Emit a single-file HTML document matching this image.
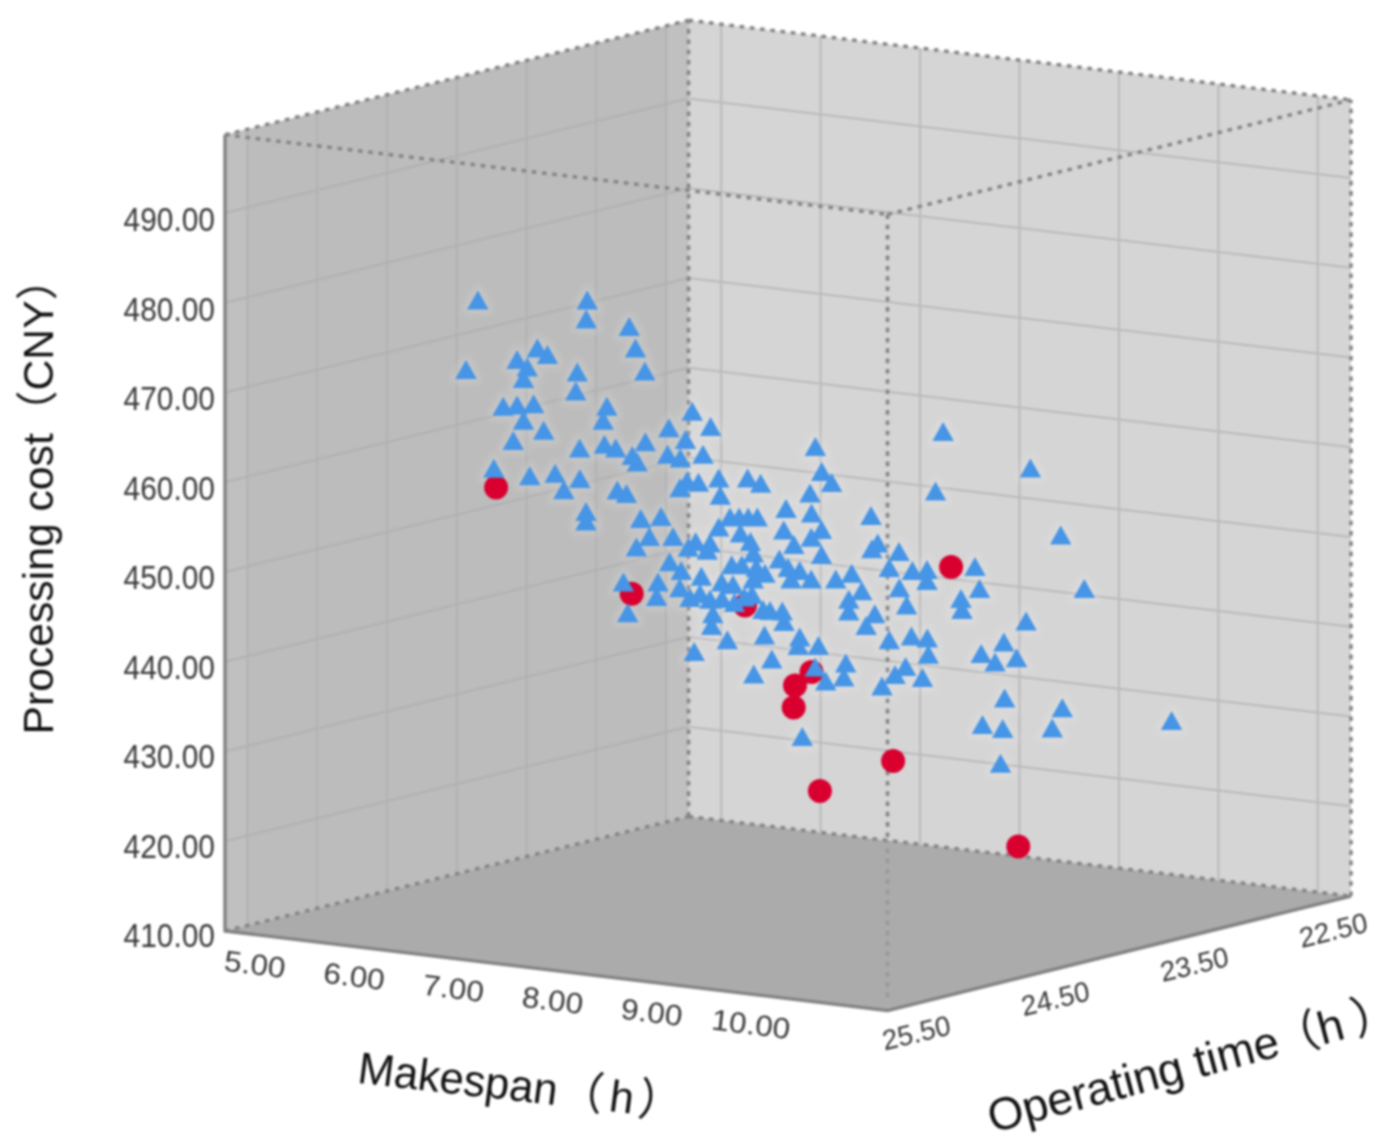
<!DOCTYPE html><html><head><meta charset="utf-8"><title>3D scatter</title><style>html,body{margin:0;padding:0;background:#fff;}svg{display:block;filter:blur(0.85px);}.tk{font-family:"Liberation Sans",sans-serif;fill:#383838;}.tt{font-family:"Liberation Sans","Noto Sans CJK SC",sans-serif;fill:#111;}</style></head><body>
<svg width="1384" height="1148" viewBox="0 0 1384 1148">
<rect width="1384" height="1148" fill="#fff"/>
<polygon points="225.0,931.0 688.5,816.5 688.5,20.3 225.0,134.8" fill="#bcbcbc"/>
<polygon points="688.5,816.5 1351.0,896.1 1351.0,99.9 688.5,20.3" fill="#d5d5d5"/>
<polygon points="225.0,931.0 688.5,816.5 1351.0,896.1 887.5,1010.6" fill="#ababab"/>
<polygon points="225.0,931.0 247.5,925.4 247.5,129.2 225.0,134.8" fill="#c0c0c0"/>
<polygon points="666.0,822.1 688.5,816.5 688.5,20.3 666.0,25.9" fill="#c0c0c0"/>
<line x1="247.5" y1="925.4" x2="247.5" y2="129.2" stroke="#b2b2b2" stroke-width="2"/>
<line x1="317.2" y1="908.2" x2="317.2" y2="112.0" stroke="#b2b2b2" stroke-width="2"/>
<line x1="387.0" y1="891.0" x2="387.0" y2="94.8" stroke="#b2b2b2" stroke-width="2"/>
<line x1="456.8" y1="873.8" x2="456.8" y2="77.5" stroke="#b2b2b2" stroke-width="2"/>
<line x1="526.5" y1="856.5" x2="526.5" y2="60.3" stroke="#b2b2b2" stroke-width="2"/>
<line x1="596.2" y1="839.3" x2="596.2" y2="43.1" stroke="#b2b2b2" stroke-width="2"/>
<line x1="666.0" y1="822.1" x2="666.0" y2="25.9" stroke="#b2b2b2" stroke-width="2"/>
<line x1="721.2" y1="820.4" x2="721.2" y2="24.2" stroke="#bababa" stroke-width="2"/>
<line x1="820.6" y1="832.4" x2="820.6" y2="36.2" stroke="#bababa" stroke-width="2"/>
<line x1="920.1" y1="844.3" x2="920.1" y2="48.1" stroke="#bababa" stroke-width="2"/>
<line x1="1019.5" y1="856.3" x2="1019.5" y2="60.1" stroke="#bababa" stroke-width="2"/>
<line x1="1118.9" y1="868.2" x2="1118.9" y2="72.0" stroke="#bababa" stroke-width="2"/>
<line x1="1218.4" y1="880.2" x2="1218.4" y2="84.0" stroke="#bababa" stroke-width="2"/>
<line x1="1317.8" y1="892.1" x2="1317.8" y2="95.9" stroke="#bababa" stroke-width="2"/>
<line x1="225.0" y1="841.2" x2="688.5" y2="726.8" stroke="#b1b1b1" stroke-width="2"/>
<line x1="688.5" y1="726.8" x2="1351.0" y2="806.3" stroke="#bababa" stroke-width="2"/>
<line x1="225.0" y1="751.5" x2="688.5" y2="637.0" stroke="#b1b1b1" stroke-width="2"/>
<line x1="688.5" y1="637.0" x2="1351.0" y2="716.6" stroke="#bababa" stroke-width="2"/>
<line x1="225.0" y1="661.8" x2="688.5" y2="547.2" stroke="#b1b1b1" stroke-width="2"/>
<line x1="688.5" y1="547.2" x2="1351.0" y2="626.8" stroke="#bababa" stroke-width="2"/>
<line x1="225.0" y1="572.0" x2="688.5" y2="457.5" stroke="#b1b1b1" stroke-width="2"/>
<line x1="688.5" y1="457.5" x2="1351.0" y2="537.1" stroke="#bababa" stroke-width="2"/>
<line x1="225.0" y1="482.2" x2="688.5" y2="367.8" stroke="#b1b1b1" stroke-width="2"/>
<line x1="688.5" y1="367.8" x2="1351.0" y2="447.3" stroke="#bababa" stroke-width="2"/>
<line x1="225.0" y1="392.5" x2="688.5" y2="278.0" stroke="#b1b1b1" stroke-width="2"/>
<line x1="688.5" y1="278.0" x2="1351.0" y2="357.6" stroke="#bababa" stroke-width="2"/>
<line x1="225.0" y1="302.8" x2="688.5" y2="188.2" stroke="#b1b1b1" stroke-width="2"/>
<line x1="688.5" y1="188.2" x2="1351.0" y2="267.8" stroke="#bababa" stroke-width="2"/>
<line x1="225.0" y1="213.0" x2="688.5" y2="98.5" stroke="#b1b1b1" stroke-width="2"/>
<line x1="688.5" y1="98.5" x2="1351.0" y2="178.1" stroke="#bababa" stroke-width="2"/>
<line x1="225.0" y1="931.0" x2="688.5" y2="816.5" stroke="#858585" stroke-width="3.5" stroke-dasharray="4.6 5.7" fill="none"/>
<line x1="688.5" y1="816.5" x2="1351.0" y2="896.1" stroke="#858585" stroke-width="3.5" stroke-dasharray="4.6 5.7" fill="none"/>
<line x1="688.5" y1="816.5" x2="688.5" y2="20.3" stroke="#858585" stroke-width="3.5" stroke-dasharray="4.6 5.7" fill="none"/>
<line x1="1351.0" y1="896.1" x2="1351.0" y2="99.9" stroke="#858585" stroke-width="3.5" stroke-dasharray="4.6 5.7" fill="none"/>
<line x1="225.0" y1="134.8" x2="688.5" y2="20.3" stroke="#858585" stroke-width="3.5" stroke-dasharray="4.6 5.7" fill="none"/>
<line x1="688.5" y1="20.3" x2="1351.0" y2="99.9" stroke="#858585" stroke-width="3.5" stroke-dasharray="4.6 5.7" fill="none"/>
<line x1="887.5" y1="214.4" x2="887.5" y2="840.4" stroke="#858585" stroke-width="3.5" stroke-dasharray="4.6 5.7" fill="none"/>
<line x1="887.5" y1="840.4" x2="887.5" y2="1000.6" stroke="#999999" stroke-width="3.5" stroke-dasharray="4.6 5.7" fill="none" stroke-dashoffset="-626.0"/>
<defs><filter id="hb" x="-5%" y="-5%" width="110%" height="110%"><feGaussianBlur stdDeviation="3"/></filter></defs>
<path d="M477.9 290.6L488.6 309.6L467.1 309.6ZM587.2 290.6L598.0 309.6L576.5 309.6ZM586.2 309.5L597.0 328.5L575.5 328.5ZM629.2 317.1L640.0 336.1L618.5 336.1ZM635.5 338.6L646.2 357.6L624.8 357.6ZM644.9 361.4L655.6 380.4L634.1 380.4ZM466.0 360.1L476.8 379.1L455.2 379.1ZM537.4 338.6L548.1 357.6L526.6 357.6ZM547.5 344.9L558.2 363.9L536.8 363.9ZM517.1 350.0L527.9 369.0L506.4 369.0ZM527.3 357.6L538.0 376.6L516.5 376.6ZM523.5 369.0L534.2 388.0L512.8 388.0ZM577.3 362.6L588.0 381.6L566.5 381.6ZM575.8 381.6L586.5 400.6L565.0 400.6ZM503.2 396.8L514.0 415.8L492.4 415.8ZM517.1 395.5L527.9 414.5L506.4 414.5ZM533.6 394.2L544.4 413.2L522.9 413.2ZM523.5 410.7L534.2 429.7L512.8 429.7ZM543.7 420.8L554.5 439.8L533.0 439.8ZM513.3 430.9L524.0 449.9L502.5 449.9ZM606.9 396.8L617.6 415.8L596.1 415.8ZM603.1 410.7L613.9 429.7L592.4 429.7ZM579.6 438.5L590.4 457.5L568.9 457.5ZM604.4 434.7L615.1 453.7L593.6 453.7ZM615.8 438.5L626.5 457.5L605.0 457.5ZM632.2 446.1L643.0 465.1L621.5 465.1ZM637.3 452.4L648.0 471.4L626.5 471.4ZM645.4 432.2L656.1 451.2L634.6 451.2ZM668.9 418.3L679.6 437.3L658.1 437.3ZM692.2 401.8L703.0 420.8L681.5 420.8ZM710.6 417.0L721.4 436.0L699.9 436.0ZM667.6 444.8L678.4 463.8L656.9 463.8ZM680.3 448.6L691.0 467.6L669.5 467.6ZM703.0 444.8L713.8 463.8L692.2 463.8ZM493.9 458.7L504.6 477.7L483.1 477.7ZM529.8 466.3L540.5 485.3L519.0 485.3ZM555.1 463.8L565.9 482.8L544.4 482.8ZM563.9 480.2L574.6 499.2L553.1 499.2ZM579.9 468.9L590.6 487.9L569.1 487.9ZM802.3 727.0L813.0 746.0L791.5 746.0ZM943.1 421.9L953.9 440.9L932.4 440.9ZM1030.4 458.6L1041.2 477.6L1019.7 477.6ZM1060.7 525.6L1071.5 544.6L1050.0 544.6ZM1084.3 579.0L1095.0 598.0L1073.5 598.0ZM1026.1 611.5L1036.8 630.5L1015.3 630.5ZM1003.9 632.6L1014.6 651.6L993.1 651.6ZM981.2 644.0L991.9 663.0L970.4 663.0ZM995.1 652.4L1005.8 671.4L984.3 671.4ZM1016.6 648.2L1027.3 667.2L1005.8 667.2ZM815.4 437.1L826.1 456.1L804.6 456.1ZM1004.6 688.5L1015.4 707.5L993.9 707.5ZM1062.3 698.3L1073.0 717.3L1051.5 717.3ZM982.5 715.1L993.2 734.1L971.7 734.1ZM1002.7 718.9L1013.5 737.9L992.0 737.9ZM1052.2 718.5L1063.0 737.5L1041.5 737.5ZM1171.6 710.9L1182.3 729.9L1160.8 729.9ZM1000.5 753.7L1011.3 772.7L989.8 772.7ZM935.5 481.5L946.2 500.5L924.8 500.5ZM877.7 533.5L888.5 552.5L867.0 552.5ZM871.9 539.3L882.6 558.3L861.1 558.3ZM783.8 520.5L794.5 539.5L773.0 539.5ZM811.2 527.7L822.0 546.7L800.5 546.7ZM793.9 534.9L804.6 553.9L783.1 553.9ZM747.6 468.5L758.4 487.5L736.9 487.5ZM760.6 473.8L771.4 492.8L749.9 492.8ZM718.7 468.5L729.5 487.5L708.0 487.5ZM720.2 485.8L731.0 504.8L709.5 504.8ZM698.5 472.8L709.2 491.8L687.8 491.8ZM718.7 517.6L729.5 536.6L708.0 536.6ZM740.4 523.4L751.1 542.4L729.6 542.4ZM750.5 532.1L761.2 551.1L739.8 551.1ZM753.4 543.6L764.1 562.6L742.6 562.6ZM695.6 532.1L706.4 551.1L684.9 551.1ZM710.0 533.5L720.8 552.5L699.2 552.5ZM707.2 540.7L718.0 559.7L696.5 559.7ZM688.4 537.8L699.1 556.8L677.6 556.8ZM623.4 572.5L634.1 591.5L612.6 591.5ZM627.7 603.3L638.5 622.3L617.0 622.3ZM669.6 552.3L680.4 571.3L658.9 571.3ZM681.2 561.0L692.0 580.0L670.5 580.0ZM658.0 572.5L668.8 591.5L647.2 591.5ZM679.7 578.3L690.5 597.3L669.0 597.3ZM656.6 586.9L667.4 605.9L645.9 605.9ZM701.4 566.7L712.1 585.7L690.6 585.7ZM721.6 572.5L732.4 591.5L710.9 591.5ZM731.7 555.2L742.5 574.2L721.0 574.2ZM741.8 555.2L752.5 574.2L731.0 574.2ZM756.3 558.1L767.0 577.1L745.5 577.1ZM710.0 589.8L720.8 608.8L699.2 608.8ZM712.9 604.3L723.6 623.3L702.1 623.3ZM711.5 615.9L722.2 634.9L700.8 634.9ZM753.4 569.6L764.1 588.6L742.6 588.6ZM765.0 563.8L775.8 582.8L754.2 582.8ZM779.4 549.4L790.1 568.4L768.6 568.4ZM788.1 558.1L798.9 577.1L777.4 577.1ZM799.7 561.0L810.5 580.0L789.0 580.0ZM791.0 569.6L801.8 588.6L780.2 588.6ZM811.2 569.6L822.0 588.6L800.5 588.6ZM782.3 601.4L793.0 620.4L771.5 620.4ZM835.8 569.6L846.5 588.6L825.0 588.6ZM851.7 563.8L862.5 582.8L841.0 582.8ZM861.8 581.2L872.5 600.2L851.0 600.2ZM848.8 589.8L859.5 608.8L838.0 608.8ZM848.8 601.4L859.5 620.4L838.0 620.4ZM874.8 604.3L885.5 623.3L864.0 623.3ZM866.1 615.9L876.9 634.9L855.4 634.9ZM889.2 558.1L900.0 577.1L878.5 577.1ZM912.4 561.0L923.1 580.0L901.6 580.0ZM899.4 578.3L910.1 597.3L888.6 597.3ZM906.6 595.6L917.4 614.6L895.9 614.6ZM727.4 630.3L738.1 649.3L716.6 649.3ZM694.2 641.9L705.0 660.9L683.5 660.9ZM799.7 627.4L810.5 646.4L789.0 646.4ZM818.4 636.1L829.1 655.1L807.6 655.1ZM798.2 636.1L809.0 655.1L787.5 655.1ZM889.2 630.3L900.0 649.3L878.5 649.3ZM928.3 644.8L939.0 663.8L917.5 663.8ZM895.0 665.0L905.8 684.0L884.2 684.0ZM882.0 676.6L892.8 695.6L871.2 695.6ZM922.5 667.9L933.2 686.9L911.8 686.9ZM733.0 575.0L743.8 594.0L722.2 594.0ZM640.7 509.0L651.5 528.0L630.0 528.0ZM661.0 507.0L671.8 526.0L650.2 526.0ZM649.4 527.0L660.1 546.0L638.6 546.0ZM636.4 537.5L647.1 556.5L625.6 556.5ZM673.0 527.0L683.8 546.0L662.2 546.0ZM586.0 502.0L596.8 521.0L575.2 521.0ZM586.0 511.5L596.8 530.5L575.2 530.5ZM617.3 480.5L628.0 499.5L606.5 499.5ZM626.5 484.0L637.2 503.0L615.8 503.0ZM685.5 430.0L696.2 449.0L674.8 449.0ZM752.0 585.0L762.8 604.0L741.2 604.0ZM784.0 612.0L794.8 631.0L773.2 631.0ZM770.0 601.0L780.8 620.0L759.2 620.0ZM763.0 600.0L773.8 619.0L752.2 619.0ZM764.5 625.5L775.2 644.5L753.8 644.5ZM771.8 649.5L782.5 668.5L761.0 668.5ZM753.8 664.5L764.5 683.5L743.0 683.5ZM815.2 657.5L826.0 676.5L804.5 676.5ZM825.7 671.5L836.5 690.5L815.0 690.5ZM845.8 653.5L856.5 672.5L835.0 672.5ZM843.8 667.6L854.5 686.6L833.0 686.6ZM744.5 587.5L755.2 606.5L733.8 606.5ZM734.5 593.0L745.2 612.0L723.8 612.0ZM722.0 589.0L732.8 608.0L711.2 608.0ZM700.0 584.0L710.8 603.0L689.2 603.0ZM690.0 588.0L700.8 607.0L679.2 607.0ZM927.3 628.5L938.0 647.5L916.5 647.5ZM911.4 626.5L922.1 645.5L900.6 645.5ZM905.6 657.0L916.4 676.0L894.9 676.0ZM927.0 560.0L937.8 579.0L916.2 579.0ZM927.0 571.0L937.8 590.0L916.2 590.0ZM975.0 557.0L985.8 576.0L964.2 576.0ZM979.5 579.0L990.2 598.0L968.8 598.0ZM961.0 589.0L971.8 608.0L950.2 608.0ZM962.0 600.0L972.8 619.0L951.2 619.0ZM821.7 462.0L832.5 481.0L811.0 481.0ZM831.6 473.0L842.4 492.0L820.9 492.0ZM810.0 483.5L820.8 502.5L799.2 502.5ZM786.0 499.0L796.8 518.0L775.2 518.0ZM811.5 503.5L822.2 522.5L800.8 522.5ZM821.5 520.0L832.2 539.0L810.8 539.0ZM821.5 545.0L832.2 564.0L810.8 564.0ZM871.0 506.0L881.8 525.0L860.2 525.0ZM899.0 542.0L909.8 561.0L888.2 561.0ZM680.0 478.3L690.8 497.3L669.2 497.3ZM687.0 471.5L697.8 490.5L676.2 490.5ZM730.0 507.6L740.8 526.6L719.2 526.6ZM739.1 507.6L749.9 526.6L728.4 526.6ZM748.2 507.6L759.0 526.6L737.5 526.6ZM757.3 507.6L768.0 526.6L746.5 526.6Z" fill="#fff" fill-opacity="0.5" stroke="#fff" stroke-opacity="0.5" stroke-width="10" stroke-linejoin="round" filter="url(#hb)" opacity="0.25"/>
<circle cx="496.1" cy="487.4" r="12" fill="#d9002f"/>
<circle cx="631.7" cy="593.8" r="12" fill="#d9002f"/>
<circle cx="745.0" cy="605.5" r="12" fill="#d9002f"/>
<circle cx="811.5" cy="672.0" r="12" fill="#d9002f"/>
<circle cx="795.0" cy="685.5" r="12" fill="#d9002f"/>
<circle cx="793.7" cy="707.5" r="12" fill="#d9002f"/>
<circle cx="819.9" cy="790.9" r="12" fill="#d9002f"/>
<circle cx="893.1" cy="761.1" r="12" fill="#d9002f"/>
<circle cx="1018.3" cy="846.5" r="12" fill="#d9002f"/>
<circle cx="951.1" cy="567.0" r="12" fill="#d9002f"/>
<path d="M477.9 290.6L488.6 309.6L467.1 309.6ZM587.2 290.6L598.0 309.6L576.5 309.6ZM586.2 309.5L597.0 328.5L575.5 328.5ZM629.2 317.1L640.0 336.1L618.5 336.1ZM635.5 338.6L646.2 357.6L624.8 357.6ZM644.9 361.4L655.6 380.4L634.1 380.4ZM466.0 360.1L476.8 379.1L455.2 379.1ZM537.4 338.6L548.1 357.6L526.6 357.6ZM547.5 344.9L558.2 363.9L536.8 363.9ZM517.1 350.0L527.9 369.0L506.4 369.0ZM527.3 357.6L538.0 376.6L516.5 376.6ZM523.5 369.0L534.2 388.0L512.8 388.0ZM577.3 362.6L588.0 381.6L566.5 381.6ZM575.8 381.6L586.5 400.6L565.0 400.6ZM503.2 396.8L514.0 415.8L492.4 415.8ZM517.1 395.5L527.9 414.5L506.4 414.5ZM533.6 394.2L544.4 413.2L522.9 413.2ZM523.5 410.7L534.2 429.7L512.8 429.7ZM543.7 420.8L554.5 439.8L533.0 439.8ZM513.3 430.9L524.0 449.9L502.5 449.9ZM606.9 396.8L617.6 415.8L596.1 415.8ZM603.1 410.7L613.9 429.7L592.4 429.7ZM579.6 438.5L590.4 457.5L568.9 457.5ZM604.4 434.7L615.1 453.7L593.6 453.7ZM615.8 438.5L626.5 457.5L605.0 457.5ZM632.2 446.1L643.0 465.1L621.5 465.1ZM637.3 452.4L648.0 471.4L626.5 471.4ZM645.4 432.2L656.1 451.2L634.6 451.2ZM668.9 418.3L679.6 437.3L658.1 437.3ZM692.2 401.8L703.0 420.8L681.5 420.8ZM710.6 417.0L721.4 436.0L699.9 436.0ZM667.6 444.8L678.4 463.8L656.9 463.8ZM680.3 448.6L691.0 467.6L669.5 467.6ZM703.0 444.8L713.8 463.8L692.2 463.8ZM493.9 458.7L504.6 477.7L483.1 477.7ZM529.8 466.3L540.5 485.3L519.0 485.3ZM555.1 463.8L565.9 482.8L544.4 482.8ZM563.9 480.2L574.6 499.2L553.1 499.2ZM579.9 468.9L590.6 487.9L569.1 487.9ZM802.3 727.0L813.0 746.0L791.5 746.0ZM943.1 421.9L953.9 440.9L932.4 440.9ZM1030.4 458.6L1041.2 477.6L1019.7 477.6ZM1060.7 525.6L1071.5 544.6L1050.0 544.6ZM1084.3 579.0L1095.0 598.0L1073.5 598.0ZM1026.1 611.5L1036.8 630.5L1015.3 630.5ZM1003.9 632.6L1014.6 651.6L993.1 651.6ZM981.2 644.0L991.9 663.0L970.4 663.0ZM995.1 652.4L1005.8 671.4L984.3 671.4ZM1016.6 648.2L1027.3 667.2L1005.8 667.2ZM815.4 437.1L826.1 456.1L804.6 456.1ZM1004.6 688.5L1015.4 707.5L993.9 707.5ZM1062.3 698.3L1073.0 717.3L1051.5 717.3ZM982.5 715.1L993.2 734.1L971.7 734.1ZM1002.7 718.9L1013.5 737.9L992.0 737.9ZM1052.2 718.5L1063.0 737.5L1041.5 737.5ZM1171.6 710.9L1182.3 729.9L1160.8 729.9ZM1000.5 753.7L1011.3 772.7L989.8 772.7ZM935.5 481.5L946.2 500.5L924.8 500.5ZM877.7 533.5L888.5 552.5L867.0 552.5ZM871.9 539.3L882.6 558.3L861.1 558.3ZM783.8 520.5L794.5 539.5L773.0 539.5ZM811.2 527.7L822.0 546.7L800.5 546.7ZM793.9 534.9L804.6 553.9L783.1 553.9ZM747.6 468.5L758.4 487.5L736.9 487.5ZM760.6 473.8L771.4 492.8L749.9 492.8ZM718.7 468.5L729.5 487.5L708.0 487.5ZM720.2 485.8L731.0 504.8L709.5 504.8ZM698.5 472.8L709.2 491.8L687.8 491.8ZM718.7 517.6L729.5 536.6L708.0 536.6ZM740.4 523.4L751.1 542.4L729.6 542.4ZM750.5 532.1L761.2 551.1L739.8 551.1ZM753.4 543.6L764.1 562.6L742.6 562.6ZM695.6 532.1L706.4 551.1L684.9 551.1ZM710.0 533.5L720.8 552.5L699.2 552.5ZM707.2 540.7L718.0 559.7L696.5 559.7ZM688.4 537.8L699.1 556.8L677.6 556.8ZM623.4 572.5L634.1 591.5L612.6 591.5ZM627.7 603.3L638.5 622.3L617.0 622.3ZM669.6 552.3L680.4 571.3L658.9 571.3ZM681.2 561.0L692.0 580.0L670.5 580.0ZM658.0 572.5L668.8 591.5L647.2 591.5ZM679.7 578.3L690.5 597.3L669.0 597.3ZM656.6 586.9L667.4 605.9L645.9 605.9ZM701.4 566.7L712.1 585.7L690.6 585.7ZM721.6 572.5L732.4 591.5L710.9 591.5ZM731.7 555.2L742.5 574.2L721.0 574.2ZM741.8 555.2L752.5 574.2L731.0 574.2ZM756.3 558.1L767.0 577.1L745.5 577.1ZM710.0 589.8L720.8 608.8L699.2 608.8ZM712.9 604.3L723.6 623.3L702.1 623.3ZM711.5 615.9L722.2 634.9L700.8 634.9ZM753.4 569.6L764.1 588.6L742.6 588.6ZM765.0 563.8L775.8 582.8L754.2 582.8ZM779.4 549.4L790.1 568.4L768.6 568.4ZM788.1 558.1L798.9 577.1L777.4 577.1ZM799.7 561.0L810.5 580.0L789.0 580.0ZM791.0 569.6L801.8 588.6L780.2 588.6ZM811.2 569.6L822.0 588.6L800.5 588.6ZM782.3 601.4L793.0 620.4L771.5 620.4ZM835.8 569.6L846.5 588.6L825.0 588.6ZM851.7 563.8L862.5 582.8L841.0 582.8ZM861.8 581.2L872.5 600.2L851.0 600.2ZM848.8 589.8L859.5 608.8L838.0 608.8ZM848.8 601.4L859.5 620.4L838.0 620.4ZM874.8 604.3L885.5 623.3L864.0 623.3ZM866.1 615.9L876.9 634.9L855.4 634.9ZM889.2 558.1L900.0 577.1L878.5 577.1ZM912.4 561.0L923.1 580.0L901.6 580.0ZM899.4 578.3L910.1 597.3L888.6 597.3ZM906.6 595.6L917.4 614.6L895.9 614.6ZM727.4 630.3L738.1 649.3L716.6 649.3ZM694.2 641.9L705.0 660.9L683.5 660.9ZM799.7 627.4L810.5 646.4L789.0 646.4ZM818.4 636.1L829.1 655.1L807.6 655.1ZM798.2 636.1L809.0 655.1L787.5 655.1ZM889.2 630.3L900.0 649.3L878.5 649.3ZM928.3 644.8L939.0 663.8L917.5 663.8ZM895.0 665.0L905.8 684.0L884.2 684.0ZM882.0 676.6L892.8 695.6L871.2 695.6ZM922.5 667.9L933.2 686.9L911.8 686.9ZM733.0 575.0L743.8 594.0L722.2 594.0ZM640.7 509.0L651.5 528.0L630.0 528.0ZM661.0 507.0L671.8 526.0L650.2 526.0ZM649.4 527.0L660.1 546.0L638.6 546.0ZM636.4 537.5L647.1 556.5L625.6 556.5ZM673.0 527.0L683.8 546.0L662.2 546.0ZM586.0 502.0L596.8 521.0L575.2 521.0ZM586.0 511.5L596.8 530.5L575.2 530.5ZM617.3 480.5L628.0 499.5L606.5 499.5ZM626.5 484.0L637.2 503.0L615.8 503.0ZM685.5 430.0L696.2 449.0L674.8 449.0ZM752.0 585.0L762.8 604.0L741.2 604.0ZM784.0 612.0L794.8 631.0L773.2 631.0ZM770.0 601.0L780.8 620.0L759.2 620.0ZM763.0 600.0L773.8 619.0L752.2 619.0ZM764.5 625.5L775.2 644.5L753.8 644.5ZM771.8 649.5L782.5 668.5L761.0 668.5ZM753.8 664.5L764.5 683.5L743.0 683.5ZM815.2 657.5L826.0 676.5L804.5 676.5ZM825.7 671.5L836.5 690.5L815.0 690.5ZM845.8 653.5L856.5 672.5L835.0 672.5ZM843.8 667.6L854.5 686.6L833.0 686.6ZM744.5 587.5L755.2 606.5L733.8 606.5ZM734.5 593.0L745.2 612.0L723.8 612.0ZM722.0 589.0L732.8 608.0L711.2 608.0ZM700.0 584.0L710.8 603.0L689.2 603.0ZM690.0 588.0L700.8 607.0L679.2 607.0ZM927.3 628.5L938.0 647.5L916.5 647.5ZM911.4 626.5L922.1 645.5L900.6 645.5ZM905.6 657.0L916.4 676.0L894.9 676.0ZM927.0 560.0L937.8 579.0L916.2 579.0ZM927.0 571.0L937.8 590.0L916.2 590.0ZM975.0 557.0L985.8 576.0L964.2 576.0ZM979.5 579.0L990.2 598.0L968.8 598.0ZM961.0 589.0L971.8 608.0L950.2 608.0ZM962.0 600.0L972.8 619.0L951.2 619.0ZM821.7 462.0L832.5 481.0L811.0 481.0ZM831.6 473.0L842.4 492.0L820.9 492.0ZM810.0 483.5L820.8 502.5L799.2 502.5ZM786.0 499.0L796.8 518.0L775.2 518.0ZM811.5 503.5L822.2 522.5L800.8 522.5ZM821.5 520.0L832.2 539.0L810.8 539.0ZM821.5 545.0L832.2 564.0L810.8 564.0ZM871.0 506.0L881.8 525.0L860.2 525.0ZM899.0 542.0L909.8 561.0L888.2 561.0ZM680.0 478.3L690.8 497.3L669.2 497.3ZM687.0 471.5L697.8 490.5L676.2 490.5ZM730.0 507.6L740.8 526.6L719.2 526.6ZM739.1 507.6L749.9 526.6L728.4 526.6ZM748.2 507.6L759.0 526.6L737.5 526.6ZM757.3 507.6L768.0 526.6L746.5 526.6Z" fill="#4695e6"/>
<line x1="225.0" y1="134.8" x2="887.5" y2="214.4" stroke="#858585" stroke-width="3.5" stroke-dasharray="4.6 5.7" fill="none"/>
<line x1="887.5" y1="214.4" x2="1351.0" y2="99.9" stroke="#858585" stroke-width="3.5" stroke-dasharray="4.6 5.7" fill="none"/>
<polyline points="225.0,134.8 225.0,931.0 887.5,1010.6 1351.0,896.1" stroke="#828282" stroke-width="3.4" fill="none" stroke-linejoin="round"/>
<text class="tk" font-size="31.5" text-anchor="end" transform="matrix(0.95,0,0,1.06,215,947.0)">410.00</text>
<text class="tk" font-size="31.5" text-anchor="end" transform="matrix(0.95,0,0,1.06,215,857.5)">420.00</text>
<text class="tk" font-size="31.5" text-anchor="end" transform="matrix(0.95,0,0,1.06,215,768.0)">430.00</text>
<text class="tk" font-size="31.5" text-anchor="end" transform="matrix(0.95,0,0,1.06,215,678.5)">440.00</text>
<text class="tk" font-size="31.5" text-anchor="end" transform="matrix(0.95,0,0,1.06,215,589.0)">450.00</text>
<text class="tk" font-size="31.5" text-anchor="end" transform="matrix(0.95,0,0,1.06,215,499.5)">460.00</text>
<text class="tk" font-size="31.5" text-anchor="end" transform="matrix(0.95,0,0,1.06,215,410.0)">470.00</text>
<text class="tk" font-size="31.5" text-anchor="end" transform="matrix(0.95,0,0,1.06,215,320.5)">480.00</text>
<text class="tk" font-size="31.5" text-anchor="end" transform="matrix(0.95,0,0,1.06,215,231.0)">490.00</text>
<text class="tk" font-size="29" text-anchor="middle" transform="matrix(1.08,0.136,-0.12,1,253.8,974.3)">5.00</text>
<text class="tk" font-size="29" text-anchor="middle" transform="matrix(1.08,0.136,-0.12,1,353.0,986.3)">6.00</text>
<text class="tk" font-size="29" text-anchor="middle" transform="matrix(1.08,0.136,-0.12,1,452.2,998.3)">7.00</text>
<text class="tk" font-size="29" text-anchor="middle" transform="matrix(1.08,0.136,-0.12,1,551.4,1010.3)">8.00</text>
<text class="tk" font-size="29" text-anchor="middle" transform="matrix(1.08,0.136,-0.12,1,650.6,1022.3)">9.00</text>
<text class="tk" font-size="29" text-anchor="middle" transform="matrix(1.08,0.136,-0.12,1,749.8,1034.3)">10.00</text>
<text class="tk" font-size="27.5" transform="matrix(0.98,-0.24,0.2,1,884.5,1050.5)">25.50</text>
<text class="tk" font-size="27.5" transform="matrix(0.98,-0.24,0.2,1,1023.5,1016.3)">24.50</text>
<text class="tk" font-size="27.5" transform="matrix(0.98,-0.24,0.2,1,1162.5,982.1)">23.50</text>
<text class="tk" font-size="27.5" transform="matrix(0.98,-0.24,0.2,1,1301.5,947.9)">22.50</text>
<text class="tt" font-size="42.7" transform="translate(52.5,734.5) rotate(-90)">Processing cost（CNY）</text>
<text class="tt" font-size="42.6" transform="translate(356.5,1082.8) rotate(6.4) skewX(-1) scale(1.02,1.05)">Makespan<tspan x="199">（</tspan><tspan x="248">h</tspan><tspan x="276.5">）</tspan></text>
<text class="tt" font-size="45.7" transform="translate(992.5,1133) rotate(-15)">Operating time<tspan dx="-4">（</tspan><tspan dx="0">h</tspan><tspan dx="10">）</tspan></text>
</svg></body></html>
